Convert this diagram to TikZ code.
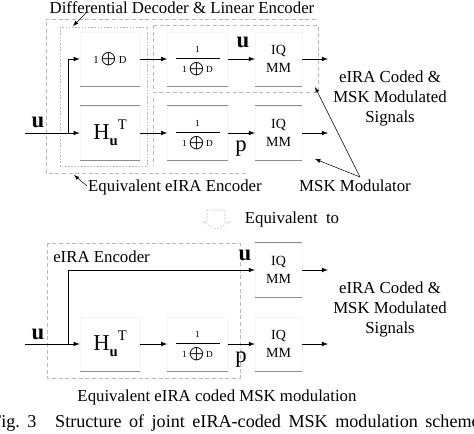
\documentclass[tikz,border=0pt]{standalone}
\usepackage{fontspec}
\setmainfont{Liberation Serif}
\usetikzlibrary{positioning}
\setlength{\arrayrulewidth}{0.6pt}
\newcommand{\accfrac}{\begin{tabular}{@{\hspace{5pt}}c@{\hspace{5pt}}}{\fontsize{7}{7}\selectfont 1}\\[1pt]\hline\rule{0pt}{10pt}{\fontsize{7}{7}\selectfont 1}\,$\bigoplus$\,{\fontsize{7}{7}\selectfont D}\end{tabular}}
\newcommand{\hmat}{{\fontsize{17}{17}\selectfont H}\raisebox{-5pt}{\fontsize{11}{11}\selectfont\bfseries u}\raisebox{7pt}{\fontsize{11}{11}\selectfont T}}
\begin{document}
\begin{tikzpicture}[x=0.75pt, y=-0.75pt, >=latex,
  blk/.style={draw=black!4, inner sep=0pt, minimum height=40.5pt},
  wide/.style={blk, minimum width=45pt},
  iq/.style={blk, minimum width=35pt, align=center, font=\fontsize{10.5}{13}\selectfont},
  rim/.style={draw=black!45, line width=0.8pt},
  flow/.style={->, semithick},
  hint/.style={->, thin},
  grp/.style={draw=black!28, dash pattern=on 3pt off 2pt},
  dots/.style={draw=black!28, dash pattern=on 1.2pt off 1.2pt},
  txt/.style={font=\fontsize{12.6}{15}\selectfont, inner sep=0pt, align=center},
  sym/.style={font=\fontsize{17}{17}\selectfont, inner sep=0pt}]
    \useasboundingbox (0,0) rectangle (474,433);

    % top: joint scheme
    \node[txt] (title) at (182,8) {Differential Decoder \& Linear Encoder};
    \draw[grp] (246,173) -- (46,173) -- (46,19) -- (318,19);
    \draw[dots] (60,27) rectangle (147,166);
    \draw[grp] (153,25) rectangle (318,92);
    \draw[grp] (153,98) -- (153,166);

    \node[wide, font=\fontsize{12}{12}\selectfont] (dec) at (110,59) {{\fontsize{8}{8}\selectfont 1}\,$\bigoplus$\,{\fontsize{8}{8}\selectfont D}};
    \node[wide] (acc1) at (197.5,59) {\accfrac};
    \node[iq] (mm1) at (278.5,59) {IQ\\MM};
    \node[wide] (hu1) at (110,133) {\hmat};
    \node[wide] (acc2) at (197.5,133) {\accfrac};
    \node[iq] (mm2) at (278.5,133) {IQ\\MM};

    \draw[rim] (dec.south west) -- (dec.south east);
    \draw[rim] (acc1.south west) -- (acc1.south east);
    \draw[rim] (mm1.south west) -- (mm1.south east);
    \draw[rim] (hu1.north west) -- (hu1.north east);
    \draw[rim] (hu1.south west) -- (hu1.south east);
    \draw[rim] (acc2.north west) -- (acc2.north east);
    \draw[rim] (acc2.south west) -- (acc2.south east);
    \draw[rim] (mm2.north west) -- (mm2.north east);
    \draw[rim] (mm2.south west) -- (mm2.south east);

    \coordinate (in1) at (25,133);
    \coordinate (fork1) at (68,133);
    \coordinate (out1) at (328,59);
    \coordinate (out2) at (328,133);
    \node[sym, font=\fontsize{17}{17}\selectfont\bfseries] (u1) at (38,122) {u};
    \node[sym, font=\fontsize{17}{17}\selectfont\bfseries] (u2) at (243,42) {u};
    \node[sym] (p1) at (241,149) {p};

    \draw[flow] (in1) -- (hu1);
    \draw[flow] (fork1) |- (dec);
    \draw[flow] (dec) -- (acc1);
    \draw[flow] (hu1) -- (acc2);
    \draw[flow] (acc1) -- (mm1);
    \draw[flow] (acc2) -- (mm2);
    \draw[flow] (mm1) -- (out1);
    \draw[flow] (mm2) -- (out2);

    \node[txt] (sig1) at (390,98) {eIRA Coded \&\\MSK Modulated\\Signals};
    \node[txt] (msk) at (355,186) {MSK Modulator};
    \node[txt] (eqenc) at (175,187) {Equivalent eIRA Encoder};
    \coordinate (tip1) at (315,87);
    \coordinate (tip2) at (315,159);
    \coordinate (tip3) at (74,175);
    \coordinate (tip4) at (73,26);
    \draw[hint] (360,177) -- (tip1);
    \draw[hint] (360,177) -- (tip2);
    \draw[hint] (87,186) -- (tip3);
    \draw[hint] (86,13) -- (tip4);

    % equivalence
    \draw[dots] (207,210) -- (207,222) -- (203,222) -- (216.5,229) -- (230,222) -- (225,222) -- (225,210) -- cycle;
    \node[txt] (eqto) at (292,219) {Equivalent\ \ to};

    % bottom: equivalent scheme
    \draw[grp] (47,243) rectangle (240,378);
    \node[txt, anchor=west] (enc) at (53,257) {eIRA Encoder};

    \node[iq] (mm3) at (278.5,270) {IQ\\MM};
    \node[wide] (hu2) at (110,344) {\hmat};
    \node[wide] (acc3) at (197.5,344) {\accfrac};
    \node[iq] (mm4) at (278.5,344) {IQ\\MM};

    \draw[rim] (mm3.north west) -- (mm3.north east);
    \draw[rim] (mm3.south west) -- (mm3.south east);
    \draw[rim] (hu2.south west) -- (hu2.south east);
    \draw[rim] (acc3.south west) -- (acc3.south east);
    \draw[rim] (mm4.south west) -- (mm4.south east);

    \coordinate (in2) at (25,344);
    \coordinate (fork2) at (68,344);
    \coordinate (out3) at (328,270);
    \coordinate (out4) at (328,344);
    \node[sym, font=\fontsize{17}{17}\selectfont\bfseries] (u3) at (38,334) {u};
    \node[sym, font=\fontsize{17}{17}\selectfont\bfseries] (u4) at (245,255) {u};
    \node[sym] (p2) at (241,360) {p};

    \draw[flow] (in2) -- (hu2);
    \draw[flow] (fork2) |- (mm3);
    \draw[flow] (hu2) -- (acc3);
    \draw[flow] (acc3) -- (mm4);
    \draw[flow] (mm3) -- (out3);
    \draw[flow] (mm4) -- (out4);

    \node[txt] (sig2) at (390,309) {eIRA Coded \&\\MSK Modulated\\Signals};
    \node[txt] (eqmod) at (217,397) {Equivalent eIRA coded MSK modulation};
    \node[txt, anchor=west, font=\fontsize{13.6}{15}\selectfont] (cap) at (-9,423) {\spaceskip=5.6pt Fig.\ 3\hspace{14pt}Structure of joint eIRA-coded MSK modulation scheme};
\end{tikzpicture}
\end{document}
